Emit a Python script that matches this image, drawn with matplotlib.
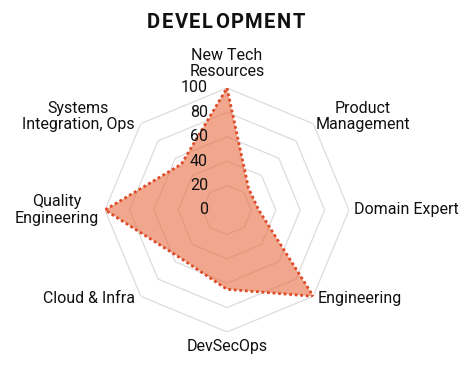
import numpy as np
import matplotlib
matplotlib.use("Agg")
import matplotlib.pyplot as plt

plt.rcParams['font.family'] = ['Roboto', 'DejaVu Sans']

title = "DEVELOPMENT"
categories = ["New Tech\nResources", "Product\nManagement", "Domain Expert", "Engineering",
              "DevSecOps", "Cloud & Infra", "Quality\nEngineering", "Systems\nIntegration, Ops"]
values = [100, 25, 26, 100, 65, 55, 100, 53]
ticks = [0, 20, 40, 60, 80, 100]

fig = plt.figure(figsize=(4.74, 3.66), dpi=100)
ax = fig.add_axes([0.2215, 0.0929, 0.5148, 0.6667], projection='polar')
ax.set_theta_offset(np.pi / 2)
ax.set_theta_direction(-1)
ax.set_ylim(0, 100)
ax.set_xticks([])
ax.set_yticks([])
ax.grid(False)
ax.spines['polar'].set_visible(False)
ax.patch.set_alpha(0)

n = len(categories)
angles = np.arange(n) * 2 * np.pi / n
closed = np.append(angles, angles[0])

# octagonal grid rings
for v in ticks[1:]:
    ax.plot(closed, [v] * (n + 1), color='#dcdcdc', lw=0.9, zorder=1)

vals = values + values[:1]
ax.fill(closed, vals, color=(233/255, 108/255, 65/255), alpha=0.6, lw=0, zorder=2)
ax.plot(closed, vals, color='#dc4a28', lw=2.0, linestyle=(0, (1, 1)),
        dash_capstyle='butt', zorder=3)

# radial tick labels
for v in ticks:
    ax.annotate(str(v), xy=(0, v), xytext=(-19, 0), textcoords='offset pixels',
                ha='right', va='center', fontsize=11.5, color='#111111', zorder=5,
                annotation_clip=False)

# category labels
label_style = [
    ('center', 'bottom', (0, 9)),
    ('left', 'center', (2, 7)),
    ('left', 'center', (5, 0)),
    ('left', 'center', (4, -2)),
    ('center', 'top', (0, -7)),
    ('right', 'center', (-6, -2)),
    ('right', 'center', (-6, 0)),
    ('right', 'center', (-6, 7)),
]
for ang, lab, (ha, va, off) in zip(angles, categories, label_style):
    ax.annotate(lab, xy=(ang, 100), xytext=off, textcoords='offset pixels',
                ha=ha, va=va, multialignment='center', fontsize=11.5,
                color='#111111', annotation_clip=False, linespacing=1.1)

# letter-spaced bold title
renderer = fig.canvas.get_renderer()
W, H = fig.get_size_inches() * fig.dpi
spacing = 1.6
widths = []
texts = []
for ch in title:
    t = fig.text(0, 0, ch, fontsize=14.5, fontweight='bold', color='#111111',
                 ha='left', va='center')
    widths.append(t.get_window_extent(renderer).width)
    texts.append(t)
total = sum(widths) + spacing * (len(title) - 1)
x = 226 - total / 2
for t, w in zip(texts, widths):
    t.set_position((x / W, 1 - 22 / H))
    x += w + spacing

fig.savefig("out.png", dpi=100)
